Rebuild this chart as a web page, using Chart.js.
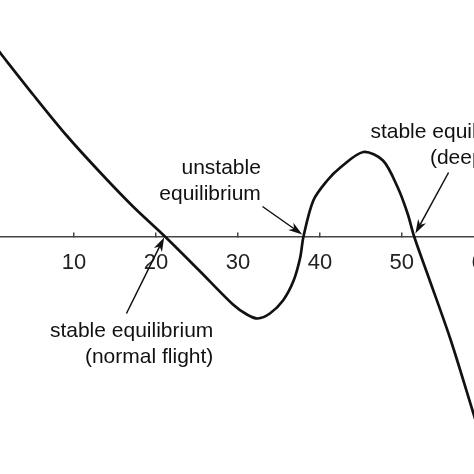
<!DOCTYPE html>
<html>
<head>
<meta charset="utf-8">
<script src="https://cdn.jsdelivr.net/npm/chart.js@4.4.1/dist/chart.umd.min.js"></script>
<style>
  html, body { margin: 0; padding: 0; background: #fff; overflow: hidden; }
  body { width: 474px; height: 474px; position: relative; }
  #wrap { position: absolute; left: -8px; top: 0; width: 541px; height: 474px; }
</style>
</head>
<body>
<div id="wrap"><canvas id="curve"></canvas></div>
<script>
// curve (y in arbitrary units, 0 = the axis)
var xs = [0.5, 1.2, 5.1, 9.1, 13.2, 17.2, 21.1, 25.4, 29.4, 31.1, 32.4, 33.9, 35.5, 36.8, 37.6, 38.0,
          39.2, 40.9, 42.5, 45.3, 47.7, 49.5, 50.7, 51.5, 53.1, 55.9, 58.7, 60.5]
var ys = [18.9, 18.15, 14.1, 10.1, 6.4, 3.0, 0, -3.5, -6.8, -7.8, -8.2, -7.7, -6.4, -4.4, -2.1, 0,
          3.6, 5.6, 6.9, 8.45, 7.6, 4.9, 2.3, 0, -3.7, -10.2, -17.6, -22.4]
var tickValues = [10, 20, 30, 40, 50, 60]

// annotation texts, anchored (right edge, first baseline) in data units
var noteLines = [
    ["stable equilibrium", "(normal flight)"],
    ["unstable", "equilibrium"],
    ["stable equilibrium", "(deep stall)"]
]
var noteAnchors = [[27.0, -10.0], [32.8, 6.3], [66.1, 9.9]]
// arrows: tail and tip in data units
var arrowTails = [[16.4, -7.7], [33.0, 3.0], [55.7, 6.4]]
var arrowTips = [[21.0, -0.1], [37.85, 0.2], [51.65, 0.3]]

var points = xs.map(function (x, i) { return { x: x, y: ys[i] } })

var notesPlugin = {
    id: 'notes',
    afterDatasetsDraw: function (chart) {
        var ctx = chart.ctx
        var sx = chart.scales.x
        var sy = chart.scales.y
        ctx.save()
        ctx.fillStyle = '#111'
        ctx.strokeStyle = '#111'
        ctx.font = '21px "Liberation Sans", Arial, sans-serif'
        ctx.textAlign = 'right'
        ctx.textBaseline = 'alphabetic'
        noteLines.forEach(function (lines, i) {
            var px = sx.getPixelForValue(noteAnchors[i][0])
            var py = sy.getPixelForValue(noteAnchors[i][1])
            lines.forEach(function (t, j) {
                ctx.fillText(t, px, py + j * 26.5)
            })
        })
        // arrows
        ctx.lineWidth = 1.5
        arrowTails.forEach(function (tail, i) {
            var x0 = sx.getPixelForValue(tail[0]), y0 = sy.getPixelForValue(tail[1])
            var x1 = sx.getPixelForValue(arrowTips[i][0]), y1 = sy.getPixelForValue(arrowTips[i][1])
            var a = Math.atan2(y1 - y0, x1 - x0)
            var len = 14, half = 4.5, notch = 4
            var bx = x1 - len * Math.cos(a), by = y1 - len * Math.sin(a)
            ctx.beginPath()
            ctx.moveTo(x0, y0)
            ctx.lineTo(bx + notch * Math.cos(a), by + notch * Math.sin(a))
            ctx.stroke()
            ctx.beginPath()
            ctx.moveTo(x1, y1)
            ctx.lineTo(bx - half * Math.sin(a), by + half * Math.cos(a))
            ctx.lineTo(bx + notch * Math.cos(a), by + notch * Math.sin(a))
            ctx.lineTo(bx + half * Math.sin(a), by - half * Math.cos(a))
            ctx.closePath()
            ctx.fill()
        })
        ctx.restore()
    }
}

var chart = new Chart(document.getElementById('curve').getContext('2d'), {
    type: 'line',
    data: {
        datasets: [{
            data: points,
            borderColor: '#111',
            borderWidth: 2.7,
            pointRadius: 0,
            fill: false,
            tension: 0.3
        }]
    },
    options: {
        responsive: true,
        maintainAspectRatio: false,
        animation: false,
        layout: { padding: 0 },
        plugins: { legend: { display: false }, tooltip: { enabled: false } },
        scales: {
            x: {
                type: 'linear',
                min: 0,
                max: 66,
                position: { y: 0 },
                afterBuildTicks: function (scale) {
                    scale.ticks = tickValues.map(function (v) { return { value: v } })
                },
                grid: { display: true, drawOnChartArea: false, drawTicks: true, tickLength: -5, color: '#444', lineWidth: 1.5 },
                border: { display: true, color: '#444', width: 1.5 },
                ticks: {
                    padding: 18,
                    color: '#222',
                    autoSkip: false,
                    maxRotation: 0,
                    font: { family: '"Liberation Sans", Arial, sans-serif', size: 22 }
                }
            },
            y: {
                type: 'linear',
                display: false,
                min: -23.75,
                max: 23.65
            }
        }
    },
    plugins: [notesPlugin]
})
</script>
</body>
</html>
